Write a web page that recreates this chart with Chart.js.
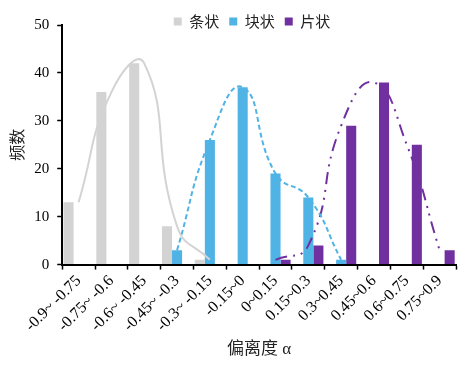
<!DOCTYPE html>
<html>
<head>
<meta charset="utf-8">
<script src="https://cdn.jsdelivr.net/npm/chart.js@4/dist/chart.umd.min.js"></script>
<style>
html, body { margin: 0; padding: 0; background: #fff; }
canvas { display: block; }
</style>
</head>
<body>
<canvas id="freqChart" width="474" height="366"></canvas>
<script>
// 偏离度区间
var labels = ['-0.9~ -0.75', '-0.75~ -0.6', '-0.6~ -0.45', '-0.45~ -0.3', '-0.3~ -0.15', '-0.15~0',
              '0~0.15', '0.15~0.3', '0.3~0.45', '0.45~0.6', '0.6~0.75', '0.75~0.9'];
var seriesNames = ['条状', '块状', '片状'];
var stripVals = [13, 36, 42, 8, 1, null, null, null, null, null, null, null];
var blockVals = [null, null, null, 3, 26, 37, 19, 14, 1, null, null, null];
var flakeVals = [null, null, null, null, null, null, 1, 4, 29, 38, 25, 3];
var yMin = 0, yMax = 50, yStep = 10;

var GRAY = '#d3d3d3';
var BLUE = '#4fb3e6';
var PURPLE = '#7030a0';
var serif = "'Liberation Serif', 'Times New Roman', 'Noto Sans CJK SC', serif";
var cjk = "'Noto Sans CJK SC', 'Liberation Serif', serif";
var SQUEEZE = 14;   // legend overlaps plot top by this much
var SHIFT = 24;     // legend centred over the plot, not the canvas

var legendSqueeze = {
    id: 'legendSqueeze',
    beforeLayout: function (chart) {
        var lg = chart.legend;
        if (lg && !lg._squeezed) {
            var fit = lg.fit;
            lg.fit = function () {
                fit.call(this);
                this.height = Math.max(0, this.height - SQUEEZE);
            };
            lg._squeezed = true;
        }
    },
    afterLayout: function (chart) {
        var lg = chart.legend;
        if (lg) {
            // give the box its height back so the text is not clipped
            lg.height += SQUEEZE;
            lg.bottom += SQUEEZE;
            lg.left += SHIFT;
            lg.right += SHIFT;
        }
    }
};

function barSet(name, vals, color) {
    return {
        type: 'bar',
        label: name,
        data: vals,
        backgroundColor: color,
        borderWidth: 0,
        order: 2
    };
}
function lineSet(vals, color, dash) {
    return {
        type: 'line',
        label: '',
        data: vals,
        borderColor: color,
        borderWidth: 2,
        borderDash: dash,
        pointRadius: 0,
        tension: 0.5,
        fill: false,
        order: 1
    };
}

var ctx = document.getElementById('freqChart').getContext('2d');
var chart = new Chart(ctx, {
    data: {
        labels: labels,
        datasets: [
            barSet(seriesNames[0], stripVals, GRAY),
            barSet(seriesNames[1], blockVals, BLUE),
            barSet(seriesNames[2], flakeVals, PURPLE),
            lineSet(stripVals, GRAY, []),
            lineSet(blockVals, BLUE, [5, 3]),
            lineSet(flakeVals, PURPLE, [12, 6, 2, 6, 2, 6])
        ]
    },
    options: {
        responsive: false,
        animation: false,
        categoryPercentage: 0.92,
        barPercentage: 1.0,
        layout: { padding: { top: 4, left: 0, right: 18, bottom: 6 } },
        plugins: {
            tooltip: { enabled: false },
            legend: {
                position: 'top',
                align: 'center',
                labels: {
                    boxWidth: 8,
                    boxHeight: 8,
                    padding: 10,
                    color: '#222',
                    font: { family: cjk, size: 15 },
                    filter: function (item) { return item.datasetIndex < 3; }
                }
            }
        },
        scales: {
            x: {
                grid: {
                    display: true,
                    offset: true,
                    drawOnChartArea: false,
                    drawTicks: true,
                    tickLength: 5,
                    tickWidth: 1.5,
                    tickColor: '#000'
                },
                border: { display: true, color: '#000', width: 2 },
                ticks: {
                    color: '#000',
                    font: { family: serif, size: 16 },
                    minRotation: 45,
                    maxRotation: 45,
                    autoSkip: false,
                    padding: 2
                },
                title: {
                    display: true,
                    text: '偏离度 α',
                    color: '#222',
                    font: { family: serif, size: 17 },
                    padding: { top: 2, bottom: 0 }
                }
            },
            y: {
                min: yMin,
                max: yMax,
                grid: {
                    display: true,
                    drawOnChartArea: false,
                    drawTicks: true,
                    tickLength: 5,
                    tickWidth: 1.5,
                    tickColor: '#000'
                },
                border: { display: true, color: '#000', width: 2 },
                ticks: {
                    stepSize: yStep,
                    color: '#000',
                    font: { family: serif, size: 15 },
                    padding: 8
                },
                title: {
                    display: true,
                    text: '频数',
                    color: '#222',
                    font: { family: cjk, size: 16 },
                    padding: { top: 7, bottom: 0 }
                }
            }
        }
    },
    plugins: [legendSqueeze]
});
</script>
</body>
</html>
